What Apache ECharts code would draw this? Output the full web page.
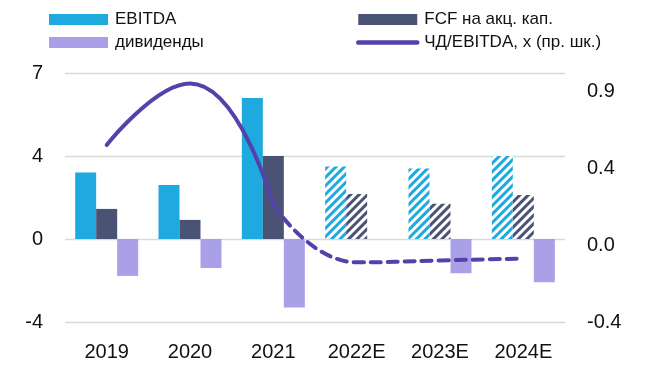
<!DOCTYPE html>
<html>
<head>
<meta charset="utf-8">
<script src="https://cdn.jsdelivr.net/npm/echarts@6/dist/echarts.min.js"></script>
<style>
html,body{margin:0;padding:0;background:#fff;}
#chart{width:649px;height:372px;}
</style>
</head>
<body>
<div id="chart"></div>
<script>
const categories = ['2019', '2020', '2021', '2022E', '2023E', '2024E'];
const forecastFlags = [false, false, false, true, true, true];
const ebitda = [3.2, 2.6, 6.8, 3.5, 3.4, 4.0];
const fcf = [1.45, 0.92, 4.0, 2.17, 1.7, 2.12];
const dividends = [-1.78, -1.4, -3.3, null, -1.65, -2.08];
const ndEbitdaActual = [0.52, 0.84, 0.21, null, null, null];
const ndEbitdaForecast = [null, null, 0.21, -0.09, -0.08, -0.07];
const leftTickValues = [-4, 0, 4, 8];
const leftTickLabels = ['-4', '0', '4', '7'];
const rightTickValues = [-0.4, 0, 0.4, 0.8];
const rightTickLabels = ['-0.4', '0.0', '0.4', '0.9'];

const C_EBITDA = '#1EAADF';
const C_FCF = '#4A5373';
const C_DIV = '#A9A0E7';
const C_LINE = '#5541AA';
const FONT = '"Liberation Sans", Arial, sans-serif';

function lookup(values, labels, v) {
  for (let i = 0; i < values.length; i++) {
    if (Math.abs(values[i] - v) < 1e-6) return labels[i];
  }
  return '';
}
function hatched(vals, color) {
  return vals.map((v, i) => forecastFlags[i] ? {
    value: v,
    itemStyle: {
      color: '#ffffff',
      decal: {
        symbol: 'rect', symbolSize: 1, color: color,
        dashArrayX: [1, 0], dashArrayY: [2.5, 2.5], rotation: -Math.PI / 4
      }
    }
  } : v);
}

const legendText = {fontSize: 17, color: '#111', fontFamily: FONT, lineHeight: 17, padding: [0, 0, 0, 2]};
const chart = echarts.init(document.getElementById('chart'), null, {renderer: 'canvas'});
chart.setOption({
  animation: false,
  textStyle: {fontFamily: FONT},
  legend: [
    {
      orient: 'vertical', left: 49, top: 11, padding: 0, itemWidth: 59, itemHeight: 11, itemGap: 6,
      data: [{name: 'EBITDA', icon: 'rect'}, {name: 'дивиденды', icon: 'rect'}],
      textStyle: legendText
    },
    {
      orient: 'vertical', left: 356, top: 11, padding: 0, itemWidth: 59, itemHeight: 11, itemGap: 6,
      data: [{name: 'FCF на акц. кап.', icon: 'rect'},
             {name: 'ЧД/EBITDA, х (пр. шк.)',
              itemStyle: {color: 'rgba(0,0,0,0)', borderWidth: 0, opacity: 0},
              lineStyle: {width: 4.5, cap: 'round', color: C_LINE}}],
      textStyle: legendText
    }
  ],
  grid: {left: 65, right: 84, top: 73, bottom: 50, containLabel: false},
  xAxis: {
    type: 'category', data: categories,
    axisLine: {show: false, onZero: false},
    axisTick: {show: false},
    axisLabel: {fontSize: 20, color: '#111', margin: 20, fontFamily: FONT}
  },
  yAxis: [
    {
      type: 'value', min: -4, max: 8, interval: 4,
      axisLine: {show: false}, axisTick: {show: false},
      splitLine: {lineStyle: {color: '#D9D9D9', width: 1.3}},
      axisLabel: {fontSize: 20, color: '#111', margin: 22, fontFamily: FONT,
        formatter: v => lookup(leftTickValues, leftTickLabels, v)}
    },
    {
      type: 'value', min: -0.4, max: 0.894, interval: 0.4,
      axisLine: {show: false}, axisTick: {show: false}, splitLine: {show: false},
      axisLabel: {fontSize: 20, color: '#111', margin: 22, fontFamily: FONT, showMaxLabel: false,
        formatter: v => lookup(rightTickValues, rightTickLabels, v)}
    }
  ],
  series: [
    {name: 'EBITDA', type: 'bar', barWidth: 21, barGap: '0%', itemStyle: {color: C_EBITDA},
     data: hatched(ebitda, C_EBITDA)},
    {name: 'FCF на акц. кап.', type: 'bar', barWidth: 21, barGap: '0%', itemStyle: {color: C_FCF},
     data: hatched(fcf, C_FCF)},
    {name: 'дивиденды', type: 'bar', barWidth: 21, barGap: '0%', itemStyle: {color: C_DIV},
     data: dividends},
    {name: 'ЧД/EBITDA, х (пр. шк.)', type: 'line', yAxisIndex: 1, smooth: 0.5, symbol: 'none',
     lineStyle: {color: C_LINE, width: 4, cap: 'round'}, itemStyle: {color: C_LINE},
     data: ndEbitdaActual, z: 5},
    {name: 'forecast', type: 'line', yAxisIndex: 1, smooth: 0.5, symbol: 'none',
     lineStyle: {color: C_LINE, width: 4, type: [10, 7], cap: 'round'}, itemStyle: {color: C_LINE},
     data: ndEbitdaForecast, z: 5}
  ]
});
</script>
</body>
</html>
